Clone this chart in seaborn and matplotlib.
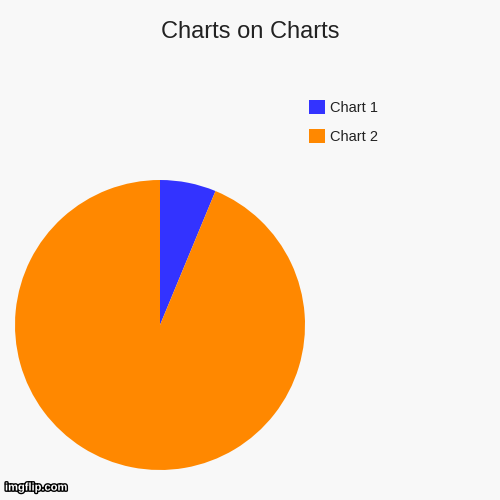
import matplotlib.pyplot as plt
import matplotlib.patheffects as pe
import seaborn as sns

labels = ['Chart 1', 'Chart 2']
values = [1, 15]
colors = ['#3333ff', '#ff8800']

sns.set_theme(style='white')
plt.rcParams['font.family'] = ['Liberation Sans', 'DejaVu Sans']

fig = plt.figure(figsize=(5, 5), dpi=100)
fig.patch.set_facecolor('#f8f8f8')

ax = fig.add_axes([0.03, 0.06, 0.58, 0.58])
ax.set_facecolor('#f8f8f8')
wedges, _ = ax.pie(values, colors=colors, startangle=90, counterclock=False,
                   radius=1, wedgeprops={'linewidth': 0})
ax.set_xlim(-1, 1)
ax.set_ylim(-1, 1)
ax.set_aspect('equal')
ax.axis('off')

fig.text(0.5, 0.937, 'Charts on Charts', ha='center', va='center',
         fontsize=17, color='#222222')

fig.legend(wedges, labels, loc='upper left', bbox_to_anchor=(0.617, 0.8),
           frameon=False, fontsize=10.5, handlelength=1.1, handleheight=1.1,
           handletextpad=0.4, labelspacing=0.95, borderaxespad=0,
           borderpad=0, labelcolor='#222222')

fig.text(0.01, 0.015, 'imgflip.com', ha='left', va='bottom', fontsize=8,
         color='white', fontweight='bold',
         path_effects=[pe.withStroke(linewidth=2, foreground='black')])

fig.savefig('out.png', dpi=100, facecolor=fig.get_facecolor())
